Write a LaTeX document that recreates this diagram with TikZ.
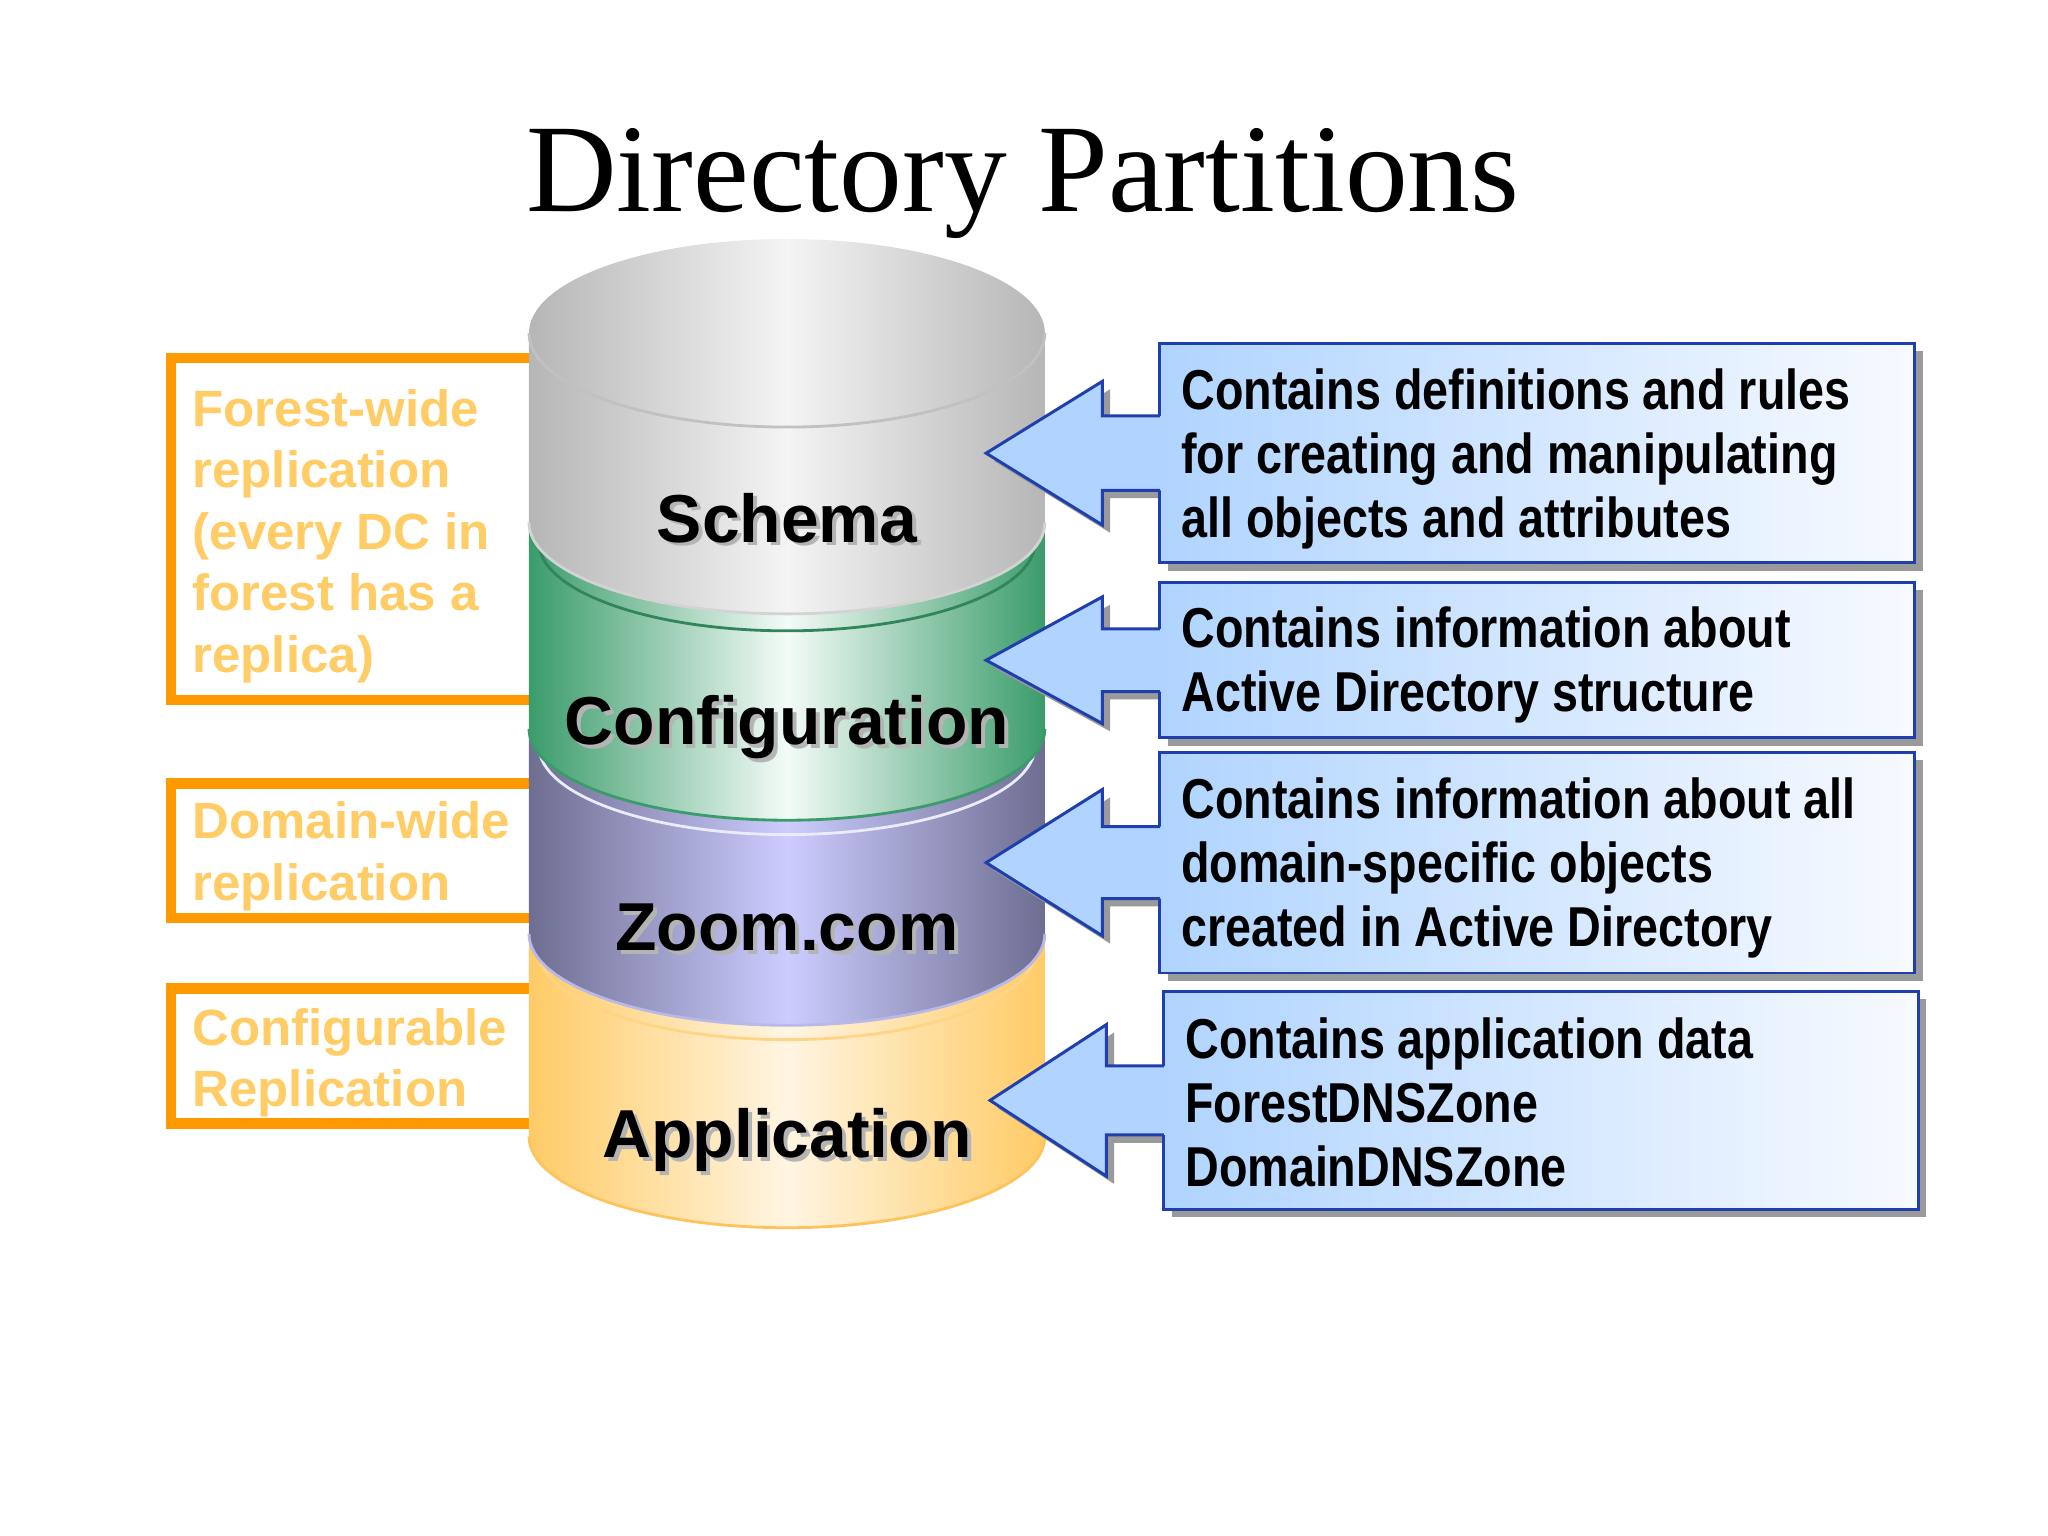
\documentclass[tikz,border=0pt]{standalone}
\usepackage{fontspec}
\setmainfont{Liberation Serif}
\newfontfamily\labelfont{Liberation Sans}
\newfontfamily\narrowfont{Liberation Sans}[FakeStretch=0.83]
\usetikzlibrary{shadows}

\definecolor{orangeline}{HTML}{FF9900}
\definecolor{orangetext}{HTML}{FFCC66}
\definecolor{infoblue}{HTML}{B0D4FF}
\definecolor{infopale}{HTML}{F7FAFF}
\definecolor{infoedge}{HTML}{1F3FAE}
\definecolor{shadowgray}{HTML}{9A9A9A}
\definecolor{labelshadow}{HTML}{B4B4B4}
\definecolor{schemaedge}{HTML}{B6B6B6}
\definecolor{schemamid}{HTML}{F4F4F4}
\definecolor{configedge}{HTML}{3B9C6B}
\definecolor{configmid}{HTML}{F3FBF7}
\definecolor{domainedge}{HTML}{6E6E92}
\definecolor{domainmid}{HTML}{CCCCFF}
\definecolor{appedge}{HTML}{FFCB66}
\definecolor{appmid}{HTML}{FFF5E2}

\pgfdeclarelayer{base}
\pgfdeclarelayer{shade}
\pgfsetlayers{base,shade,main}

\tikzset{
  notebox/.style={draw=orangeline, line width=3pt},
  notetext/.style={anchor=north west, inner sep=0pt, align=left, text=orangetext,
    font=\labelfont\bfseries\fontsize{14.5}{17.5}\selectfont},
  layertext/.style={anchor=base, inner sep=0pt, font=\labelfont\bfseries\fontsize{19.3}{23}\selectfont},
  infobox/.style={anchor=north west, draw=infoedge, line width=0.85pt, left color=infoblue,
    right color=infopale, minimum width=7.549cm, inner sep=0pt, outer sep=0pt,
    drop shadow={shadow xshift=0.078cm, shadow yshift=-0.078cm, fill=shadowgray, opacity=1}},
  infotext/.style={anchor=north west, inner sep=0pt, align=left,
    font=\narrowfont\bfseries\fontsize{16}{18.2}\selectfont},
  arrowline/.style={draw=infoedge, line width=0.85pt, line join=miter},
}

\begin{document}
\begin{tikzpicture}[x=0.0130612cm, y=0.0130612cm]
\useasboundingbox (0,0) rectangle (1568,1176);

\node[font=\fontsize{35.7}{40}\selectfont, anchor=base] (title) at (783,1014) {Directory Partitions};

\begin{pgfonlayer}{base}
% replication notes
\draw[notebox] (131,902) rectangle (520,640);
\draw[notebox] (131,576) rectangle (520,473);
\draw[notebox] (131,419) rectangle (520,316);
\node[notetext] (forestnote) at (147,878.5) {Forest-wide\\replication\\(every DC in\\forest has a\\replica)};
\node[notetext] (domainnote) at (147,562.5) {Domain-wide\\replication};
\node[notetext] (confignote) at (147,404.5) {Configurable\\Replication};

% the partition stack, bottom first
\shade[left color=appedge, right color=appedge, middle color=appmid]
  (405,461) -- (405,306) arc (180:360:197.5 and 70) -- (800,461) -- cycle;
\draw[appedge!90!orange, line width=0.8pt] (405,306) arc (180:360:197.5 and 70);
\draw[appedge!80!white, line width=0.8pt] (412.5,448) arc (180:360:190 and 68);

\shade[left color=domainedge, right color=domainedge, middle color=domainmid]
  (405,618) -- (405,461) arc (180:360:197.5 and 70) -- (800,618) -- cycle;
\draw[domainmid!80!domainedge, line width=0.8pt] (405,461) arc (180:360:197.5 and 70);
\draw[domainmid!40!white, line width=0.8pt] (412.5,605) arc (180:360:190 and 68);

\shade[left color=configedge, right color=configedge, middle color=configmid]
  (405,776) -- (405,618) arc (180:360:197.5 and 70) -- (800,776) -- cycle;
\draw[configedge, line width=0.8pt] (405,618) arc (180:360:197.5 and 70);
\draw[configedge!85!black, line width=0.8pt] (412.5,761) arc (180:360:190 and 68);

\shade[left color=schemaedge, right color=schemaedge, middle color=schemamid]
  (405,921) -- (405,776) arc (180:360:197.5 and 70) -- (800,921) arc (0:180:197.5 and 72) -- cycle;
\draw[schemaedge!60!white, line width=0.8pt] (405,776) arc (180:360:197.5 and 70);
\draw[schemaedge!85!white, line width=0.8pt] (405,921) arc (180:360:197.5 and 72);

\foreach \name/\y/\txt in {schema/761/Schema, config/606/Configuration, domain/448/Zoom.com, app/290/Application} {
  \node[layertext, text=labelshadow] (\name-sh) at (605.5,\y-3) {\txt};
  \node[layertext] (\name) at (602.5,\y) {\txt};
}
\end{pgfonlayer}

% descriptions
\node[infobox, minimum height=2.194cm] (schemainfo) at (888,913) {};
\node[infobox, minimum height=1.554cm] (configinfo) at (888,730) {};
\node[infobox, minimum height=2.207cm] (domaininfo) at (888,600) {};
\node[infobox, minimum height=2.181cm] (appinfo) at (891,417) {};

\node[infotext] (schematext) at (904,894) {Contains definitions and rules\\for creating and manipulating\\all objects and attributes};
\node[infotext] (configtext) at (904,712) {Contains information about\\Active Directory structure};
\node[infotext] (domaintext) at (904,581) {Contains information about all\\domain-specific objects\\created in Active Directory};
\node[infotext] (apptext) at (907,397) {Contains application data\\ForestDNSZone\\DomainDNSZone};

% block arrows into the stack
\foreach \info/\headh/\shafth in {schemainfo/55/28.5, configinfo/48.5/24, domaininfo/56/27.5, appinfo/58/26.5} {
  \begin{scope}[shift={(\info.west)}]
    \begin{pgfonlayer}{shade}
      \fill[shadowgray, shift={(6,-6)}] (0,\shafth) -- (-44,\shafth) -- (-44,\headh) -- (-133,0)
        -- (-44,-\headh) -- (-44,-\shafth) -- (0,-\shafth) -- cycle;
    \end{pgfonlayer}
    \fill[infoblue] (2,\shafth) -- (-44,\shafth) -- (-44,\headh) -- (-133,0)
      -- (-44,-\headh) -- (-44,-\shafth) -- (2,-\shafth) -- cycle;
    \draw[arrowline] (0,\shafth) -- (-44,\shafth) -- (-44,\headh) -- (-133,0)
      -- (-44,-\headh) -- (-44,-\shafth) -- (0,-\shafth);
  \end{scope}
}
\end{tikzpicture}
\end{document}
